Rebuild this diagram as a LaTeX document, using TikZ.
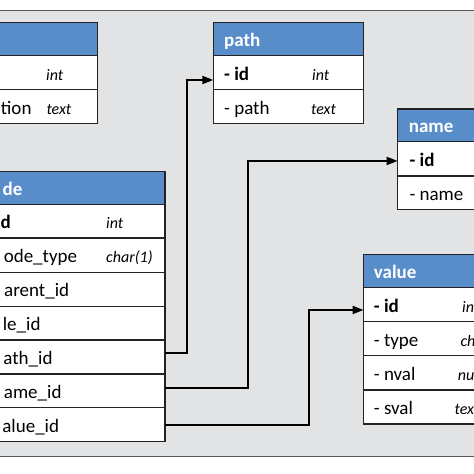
\documentclass[tikz,border=0pt]{standalone}
\usepackage{fontspec}
\setmainfont{Carlito}
\usetikzlibrary{arrows.meta}
\definecolor{bggray}{RGB}{226,227,229}
\definecolor{frame}{RGB}{90,90,90}
\definecolor{hdrblue}{RGB}{88,141,202}
\definecolor{edge}{RGB}{35,35,35}
\tikzset{
  cell/.style={draw=edge, line width=1.3pt, fill=white, rectangle, inner sep=0pt, outer sep=0pt, anchor=north west},
  hdr/.style={cell, fill=hdrblue},
  fname/.style={font=\fontsize{19}{19}\selectfont, inner sep=0pt, anchor=base west, text=black},
  fkey/.style={fname, font=\fontsize{19}{19}\selectfont\bfseries},
  ftype/.style={font=\fontsize{16}{16}\selectfont\itshape, inner sep=0pt, anchor=base west, text=black},
  fhdr/.style={font=\fontsize{19}{19}\selectfont\bfseries, inner sep=0pt, anchor=base west, text=white},
  conn/.style={draw=black, line width=2pt, -{Triangle[length=11pt,width=8pt]}}
}
\begin{document}
\begin{tikzpicture}[x=1pt,y=-1pt]
\useasboundingbox (0,0) rectangle (474,474);
\clip (0,0) rectangle (474,474);
\fill[white] (0,0) rectangle (474,474);
\draw[frame, fill=bggray, line width=1pt] (-10,10) rectangle (490,456.3);

% table 1 (cut off)
\node[hdr, minimum width=157.7pt, minimum height=33pt] (ah) at (-60,22.7) {};
\node[cell, minimum width=157.7pt, minimum height=34pt] (ar1) at (-60,55.7) {};
\node[cell, minimum width=157.7pt, minimum height=33.6pt] (ar2) at (-60,89.7) {};
\node[ftype] (a1t) at (46,80.2) {int};
\node[fname, anchor=base east] (a2n) at (31.7,114) {tion};
\node[ftype] (a2t) at (46.3,114) {text};

% path table
\node[hdr, minimum width=150.4pt, minimum height=33pt] (ph) at (213.3,22.7) {};
\node[cell, minimum width=150.4pt, minimum height=34pt] (pid) at (213.3,55.7) {};
\node[cell, minimum width=150.4pt, minimum height=33.6pt] (ppath) at (213.3,89.7) {};
\node[fhdr] (pht) at (224,46.6) {path};
\node[fkey] (p1n) at (224,80.2) {- id};
\node[ftype] (p1t) at (312,80.2) {int};
\node[fname] (p2n) at (224,114) {- path};
\node[ftype] (p2t) at (311,114) {text};

% name table
\node[hdr, minimum width=120pt, minimum height=32.7pt] (nh) at (397.7,109) {};
\node[cell, minimum width=120pt, minimum height=34.3pt] (nid) at (397.7,141.7) {};
\node[cell, minimum width=120pt, minimum height=33.3pt] (nname) at (397.7,176) {};
\node[fhdr] (nht) at (408.7,132.7) {name};
\node[fkey] (n1n) at (409.3,166.3) {- id};
\node[fname] (n2n) at (409.3,200) {- name};

% node table
\node[hdr, minimum width=225pt, minimum height=32.6pt] (dh) at (-60,171.7) {};
\node[cell, minimum width=225pt, minimum height=33.7pt] (d1) at (-60,204.3) {};
\node[cell, minimum width=225pt, minimum height=34.5pt] (d2) at (-60,238) {};
\node[cell, minimum width=225pt, minimum height=33.7pt] (d3) at (-60,272.5) {};
\node[cell, minimum width=225pt, minimum height=33.9pt] (d4) at (-60,306.2) {};
\node[cell, minimum width=225pt, minimum height=33.9pt] (d5) at (-60,340.1) {};
\node[cell, minimum width=225pt, minimum height=33.7pt] (d6) at (-60,374) {};
\node[cell, minimum width=225pt, minimum height=33.8pt] (d7) at (-60,407.7) {};
\node[fhdr, anchor=base east] (dht) at (22.7,195.4) {de};
\node[fkey] (d1n) at (0.5,228.6) {d};
\node[ftype] (d1t) at (106,228.6) {int};
\node[fname, anchor=base east] (d2n) at (77.3,262.7) {ode\_type};
\node[ftype] (d2t) at (106,262.7) {char(1)};
\node[fname, anchor=base east] (d3n) at (69.3,296.8) {arent\_id};
\node[fname, anchor=base east] (d4n) at (40.7,330.6) {le\_id};
\node[fname, anchor=base east] (d5n) at (52.7,364.4) {ath\_id};
\node[fname, anchor=base east] (d6n) at (61.7,398.3) {ame\_id};
\node[fname, anchor=base east] (d7n) at (59.3,432) {alue\_id};

% value table
\node[hdr, minimum width=160pt, minimum height=33.4pt] (vh) at (363.5,254.3) {};
\node[cell, minimum width=160pt, minimum height=34pt] (vid) at (363.5,287.7) {};
\node[cell, minimum width=160pt, minimum height=34pt] (vtype) at (363.5,321.7) {};
\node[cell, minimum width=160pt, minimum height=34.3pt] (vnval) at (363.5,355.7) {};
\node[cell, minimum width=160pt, minimum height=34pt] (vsval) at (363.5,390) {};
\node[fhdr] (vht) at (373.7,278.4) {value};
\node[fkey] (v1n) at (373.7,312.1) {- id};
\node[ftype] (v1t) at (462,312.1) {in};
\node[fname] (v2n) at (373.7,346.1) {- type};
\node[ftype] (v2t) at (460.3,346.1) {ch};
\node[fname] (v3n) at (373.7,380.2) {- nval};
\node[ftype] (v3t) at (457.7,380.2) {nu};
\node[fname] (v4n) at (373.7,414.4) {- sval};
\node[ftype] (v4t) at (454.5,414.4) {tex};

% connectors
\draw[conn] ([yshift=4.3pt]d5.east) -- ++(22pt,0) |- ([yshift=-7.3pt]pid.west);
\draw[conn] ([yshift=2.6pt]d6.east) -- ++(82.7pt,0) |- ([yshift=-2.1pt]nid.west);
\draw[conn] ([yshift=-0.4pt]d7.east) -- ++(144.3pt,0) |- ([yshift=-5.3pt]vid.west);
\end{tikzpicture}
\end{document}
